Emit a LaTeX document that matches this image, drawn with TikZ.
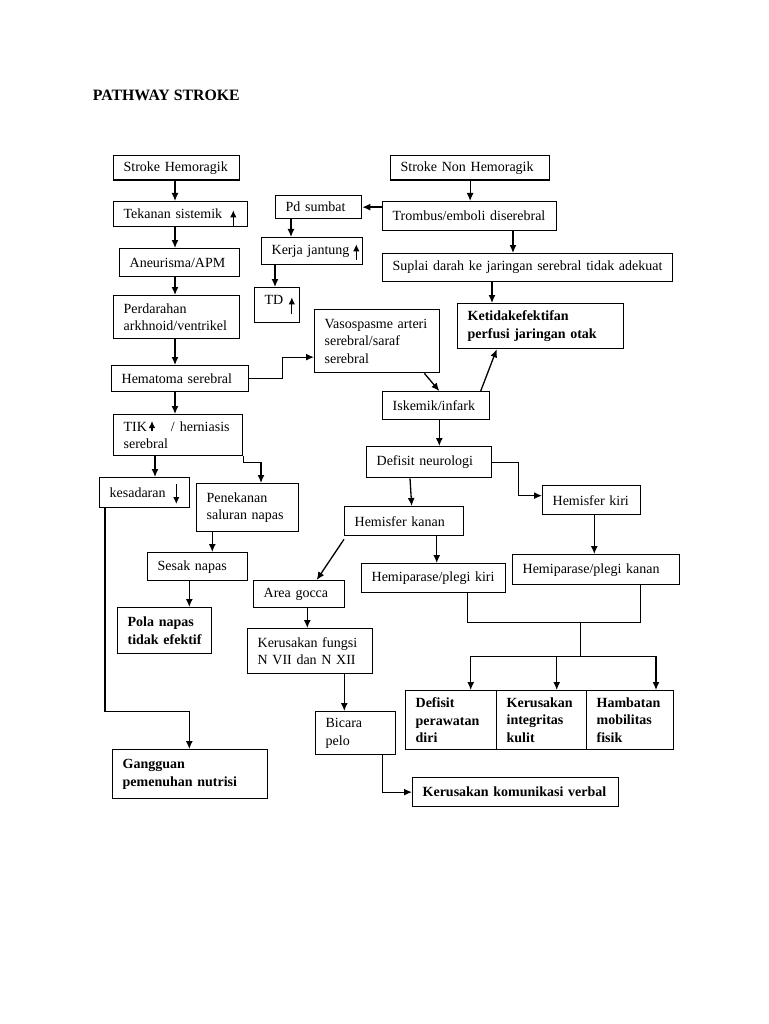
\documentclass[tikz,border=0pt]{standalone}
\usepackage{fontspec}
\setmainfont{Liberation Serif}
\usetikzlibrary{arrows.meta}

\tikzset{
  kotak/.style={draw, line width=1.3pt, anchor=north west, align=left, inner xsep=10pt, inner ysep=2pt, font=\fontsize{14}{17.5}\selectfont},
  tebal/.style={kotak, font=\fontsize{14}{17.5}\selectfont\bfseries},
  panah/.style={line width=1.3pt, -{Latex[length=8pt,width=7pt]}},
  naik/.style={line width=1.3pt, -{Latex[length=7pt,width=6.5pt]}},
  garis/.style={line width=1.3pt}
}

\begin{document}
\begin{tikzpicture}[x=1pt,y=-1pt]
  \useasboundingbox (0,0) rectangle (768,1024);

  \node[anchor=base west, inner sep=0pt, font=\fontsize{15.8}{18}\selectfont\bfseries] (judul) at (92.7,100.7) {PATHWAY STROKE};

% kolom kiri
  \node[kotak, text width=106pt, minimum height=24.5pt] (sh) at (113,155) {Stroke Hemoragik};
  \node[kotak, text width=114pt, minimum height=25pt] (ts) at (113,201) {Tekanan sistemik};
  \node[kotak, text width=100pt, minimum height=28pt] (an) at (119,248) {Aneurisma/APM};
  \node[kotak, text width=106pt, minimum height=43pt] (pd) at (113,295) {Perdarahan\\arkhnoid/ventrikel};
  \node[kotak, text width=117pt, minimum height=26pt] (hs) at (111,365) {Hematoma serebral};
  \node[kotak, text width=109pt, minimum height=41pt] (tik) at (113,414) {TIK\hspace{24pt}/\hspace{5pt}herniasis\\serebral};
  \node[kotak, text width=70pt, minimum height=30pt] (ks) at (99,477) {kesadaran};
  \node[kotak, text width=82pt, minimum height=48pt] (pn) at (196,483) {Penekanan\\saluran napas};
  \node[kotak, text width=80pt, minimum height=28pt] (sn) at (147,552) {Sesak napas};
  \node[tebal, text width=74pt, minimum height=46pt] (pola) at (117,607) {Pola napas\\tidak efektif};
  \node[tebal, text width=135pt, minimum height=49pt] (gg) at (112,749) {Gangguan\\pemenuhan nutrisi};

% kolom tengah
  \node[kotak, text width=66pt, minimum height=23pt] (ps) at (275,195) {Pd sumbat};
  \node[kotak, text width=81pt, minimum height=27pt] (kj) at (261,237) {Kerja jantung};
  \node[kotak, text width=25pt, minimum height=35pt, text depth=10pt] (td) at (254,287) {TD};
  \node[kotak, text width=105pt, minimum height=63pt] (vs) at (314,309) {Vasospasme arteri\\serebral/saraf\\serebral};
  \node[kotak, text width=71pt, minimum height=27pt] (ag) at (253,580) {Area gocca};
  \node[kotak, text width=104.5pt, minimum height=45pt] (kf) at (247,628) {Kerusakan fungsi\\N VII dan N XII};
  \node[kotak, text width=60pt, minimum height=43pt] (bp) at (315,711) {Bicara\\pelo};

% kolom kanan
  \node[kotak, text width=139pt, minimum height=24.5pt] (snh) at (390,155) {Stroke Non Hemoragik};
  \node[kotak, text width=154pt, minimum height=29pt] (te) at (382,201) {Trombus/emboli diserebral};
  \node[kotak, text width=270pt, minimum height=28pt] (sd) at (382,253) {Suplai darah ke jaringan serebral tidak adekuat};
  \node[tebal, text width=146pt, minimum height=45pt] (kp) at (457,303) {Ketidakefektifan\\perfusi jaringan otak};
  \node[kotak, text width=87pt, minimum height=28pt] (ik) at (382,391) {Iskemik/infark};
  \node[kotak, text width=105pt, minimum height=31pt] (dn) at (366,446) {Defisit neurologi};
  \node[kotak, text width=99pt, minimum height=29pt] (hka) at (344,506) {Hemisfer kanan};
  \node[kotak, text width=78pt, minimum height=29pt] (hki) at (542,485) {Hemisfer kiri};
  \node[kotak, text width=124pt, minimum height=29pt] (hpki) at (361,563) {Hemiparase/plegi kiri};
  \node[kotak, text width=147pt, minimum height=30pt] (hpka) at (512,554) {Hemiparase/plegi kanan};
  \node[tebal, text width=71pt, minimum height=59pt] (dpd) at (405,690) {Defisit\\perawatan\\diri};
  \node[tebal, text width=70pt, minimum height=59pt] (kik) at (496,690) {Kerusakan\\integritas\\kulit};
  \node[tebal, text width=67pt, minimum height=59pt] (hmf) at (586,690) {Hambatan\\mobilitas\\fisik};
  \node[tebal, text width=186pt, minimum height=29pt] (kkv) at (412,777) {Kerusakan komunikasi verbal};

% panah kecil naik/turun di dalam kotak
  \draw[naik] ([xshift=-15pt]ts.south east) -- ++(0,-17);
  \draw[naik] ([xshift=-7pt,yshift=5pt]kj.south east) -- ++(0,-16);
  \draw[naik] ([xshift=-8.5pt,yshift=9pt]td.south east) -- ++(0,-17);
  \draw[naik] ([xshift=39pt,yshift=-17pt]tik.north west) -- ++(0,-10);
  \draw[naik] ([xshift=-14pt,yshift=-7pt]ks.north east) -- ++(0,20);

% alur kiri
  \coordinate (kolom) at (175,0);
  \draw[panah] (kolom |- sh.south) -- (kolom |- ts.north);
  \draw[panah] (kolom |- ts.south) -- (kolom |- an.north);
  \draw[panah] (kolom |- an.south) -- (kolom |- pd.north);
  \draw[panah] (kolom |- pd.south) -- (kolom |- hs.north);
  \draw[panah] (kolom |- hs.south) -- (kolom |- tik.north);
  \draw[panah] ([xshift=42pt]tik.south west) -- ([xshift=42pt]tik.south west |- ks.north);
  \draw[panah] (tik.south east) -- ++(0,6) -| ([xshift=65pt]pn.north west);
  \draw[panah] ([xshift=16.3pt]pn.south west) -- ([xshift=16.3pt]pn.south west |- sn.north);
  \draw[panah] ([xshift=42.3pt]sn.south west) -- ([xshift=42.3pt]sn.south west |- pola.north);
  \draw[panah] ([xshift=6pt]ks.south west) -- ++(0,203) -| ([xshift=77.3pt]gg.north west);
  \draw[panah] (hs.east) -- ++(33,0) |- ([yshift=-16pt]vs.west);

% alur kanan
  \draw[panah] (snh.south) -- (snh.south |- te.north);
  \draw[panah] (te.west |- ps.east) -- (ps.east);
  \draw[panah] ([xshift=16pt]ps.south west) -- ([xshift=16pt]ps.south west |- kj.north);
  \draw[panah] ([xshift=14pt]kj.south west) -- ([xshift=14pt]kj.south west |- td.north);
  \draw[panah] ([xshift=131pt]te.south west) -- ([xshift=131pt]te.south west |- sd.north);
  \draw[panah] ([xshift=110pt]sd.south west) -- ([xshift=110pt]sd.south west |- kp.north);
  \draw[panah] ([xshift=110.3pt]vs.south west) -- ([xshift=57.3pt]ik.north west);
  \draw[panah] ([xshift=98.7pt]ik.north west) -- ([xshift=39.7pt]kp.south west);
  \draw[panah] ([xshift=57.3pt]ik.south west) -- ([xshift=57.3pt]ik.south west |- dn.north);
  \draw[panah] ([xshift=44pt]dn.south west) -- ([xshift=67.7pt]hka.north west);
  \draw[panah] (dn.east) -- ++(26.3,0) |- ([yshift=4.5pt]hki.west);
  \draw[panah] ([xshift=92.7pt]hka.south west) -- ([xshift=92.7pt]hka.south west |- hpki.north);
  \draw[panah] ([yshift=-3pt]hka.south west) -- ([xshift=63.7pt]ag.north west);
  \draw[panah] ([xshift=52.3pt]hki.south west) -- ([xshift=52.3pt]hki.south west |- hpka.north);
  \draw[panah] ([xshift=54.3pt]ag.south west) -- ([xshift=54.3pt]ag.south west |- kf.north);
  \draw[panah] ([xshift=97.3pt]kf.south west) -- ([xshift=97.3pt]kf.south west |- bp.north);
  \draw[panah] ([xshift=67.7pt]bp.south west) |- (kkv.west);

% gabungan hemiparase ke tiga diagnosa
  \coordinate (gabung) at (580.7,622.7);
  \coordinate (cabang) at (580.7,656.7);
  \draw[garis] ([xshift=106.7pt]hpki.south west) |- (gabung) -| ([xshift=128.7pt]hpka.south west);
  \draw[garis] (gabung) -- (cabang);
  \foreach \n/\dx in {dpd/65.7, kik/60.7, hmf/70}
    \draw[panah] (cabang) -| ([xshift=\dx pt]\n.north west);

\end{tikzpicture}
\end{document}
